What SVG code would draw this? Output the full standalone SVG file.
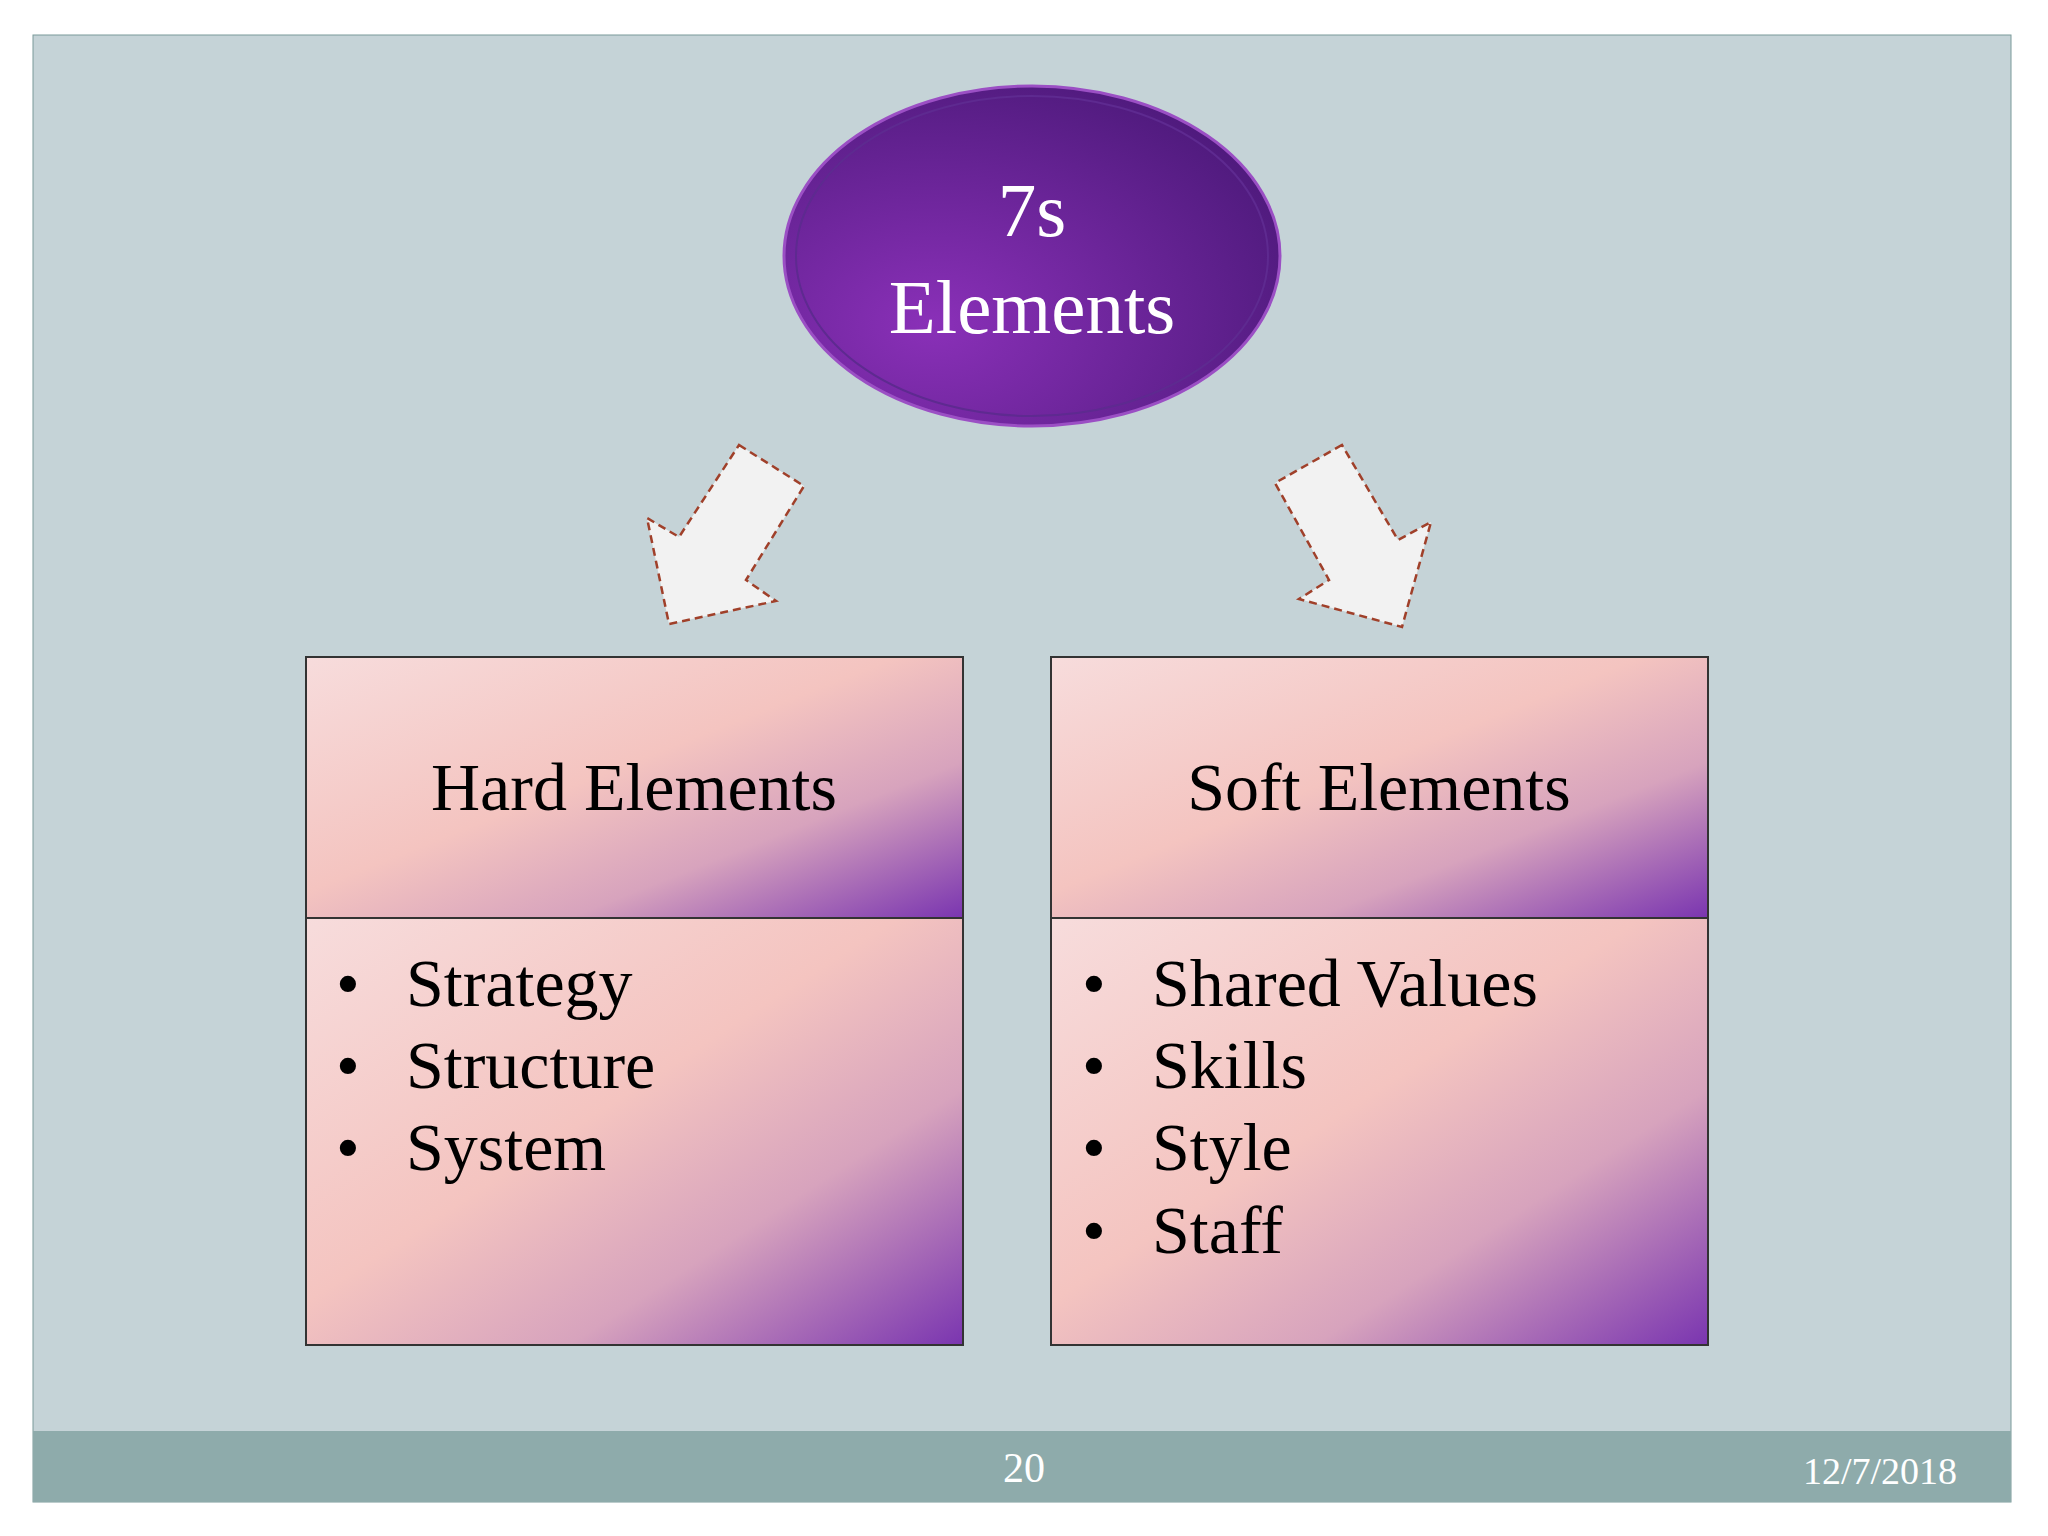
<svg xmlns="http://www.w3.org/2000/svg" width="2048" height="1536" viewBox="0 0 2048 1536">
<defs>
<linearGradient id="bx" x1="0" y1="0" x2="1" y2="1">
<stop offset="0" stop-color="#f7dcdc"/><stop offset="0.45" stop-color="#f4c4c0"/><stop offset="0.7" stop-color="#d7a3bd"/><stop offset="1" stop-color="#7a35b0"/>
</linearGradient>
<radialGradient id="el" cx="0.3" cy="0.7" r="0.8">
<stop offset="0" stop-color="#8a30b8"/><stop offset="1" stop-color="#4e1a7c"/>
</radialGradient>
<style>
.t{font-family:"Liberation Serif",serif;fill:#000}
.box{fill:url(#bx);stroke:#333;stroke-width:2}
.arr{fill:#f2f2f2;stroke:#a0402a;stroke-width:2.5;stroke-dasharray:8,5}
</style>
</defs>
<rect width="2048" height="1536" fill="#ffffff"/>
<rect x="33" y="35" width="1978" height="1467" fill="#c5d3d7" stroke="#7a9a9a" stroke-width="1"/>
<rect x="33" y="1431" width="1978" height="71" fill="#8eabab"/>
<g id="ellipse">
<ellipse cx="1032" cy="256" rx="248" ry="170" fill="url(#el)" stroke="#9b4fc4" stroke-width="3"/>
<ellipse cx="1032" cy="256" rx="236" ry="160" fill="none" stroke="#5e2a90" stroke-width="2"/>
<text class="t" x="1032" y="236" font-size="77" text-anchor="middle" style="fill:#fff">7s</text>
<text class="t" x="1032" y="333" font-size="77" text-anchor="middle" style="fill:#fff">Elements</text>
</g>
<g id="connectors">
<polygon class="arr" points="739,445 804,486 746,580 776,601 669,624 647,518 679,537"/>
<polygon class="arr" points="1342,445 1275,483 1329,580 1299,599 1402,627 1431,522 1398,540"/>
</g>
<g id="hard">
<rect class="box" x="306" y="657" width="657" height="261"/>
<rect class="box" x="306" y="918" width="657" height="427"/>
<text class="t" x="634" y="810" font-size="68" text-anchor="middle">Hard Elements</text>
<g class="t" font-size="68">
<text x="336" y="1006">•</text><text x="406" y="1006">Strategy</text>
<text x="336" y="1088">•</text><text x="406" y="1088">Structure</text>
<text x="336" y="1170">•</text><text x="406" y="1170">System</text>
</g>
</g>
<g id="soft">
<rect class="box" x="1051" y="657" width="657" height="261"/>
<rect class="box" x="1051" y="918" width="657" height="427"/>
<text class="t" x="1379" y="810" font-size="68" text-anchor="middle">Soft Elements</text>
<g class="t" font-size="68">
<text x="1082" y="1006">•</text><text x="1152" y="1006">Shared Values</text>
<text x="1082" y="1088">•</text><text x="1152" y="1088">Skills</text>
<text x="1082" y="1170">•</text><text x="1152" y="1170">Style</text>
<text x="1082" y="1253">•</text><text x="1152" y="1253">Staff</text>
</g>
</g>
<text class="t" x="1024" y="1482" font-size="42" text-anchor="middle" style="fill:#fff">20</text>
<text class="t" x="1957" y="1484" font-size="38" text-anchor="end" style="fill:#fff">12/7/2018</text>
</svg>
